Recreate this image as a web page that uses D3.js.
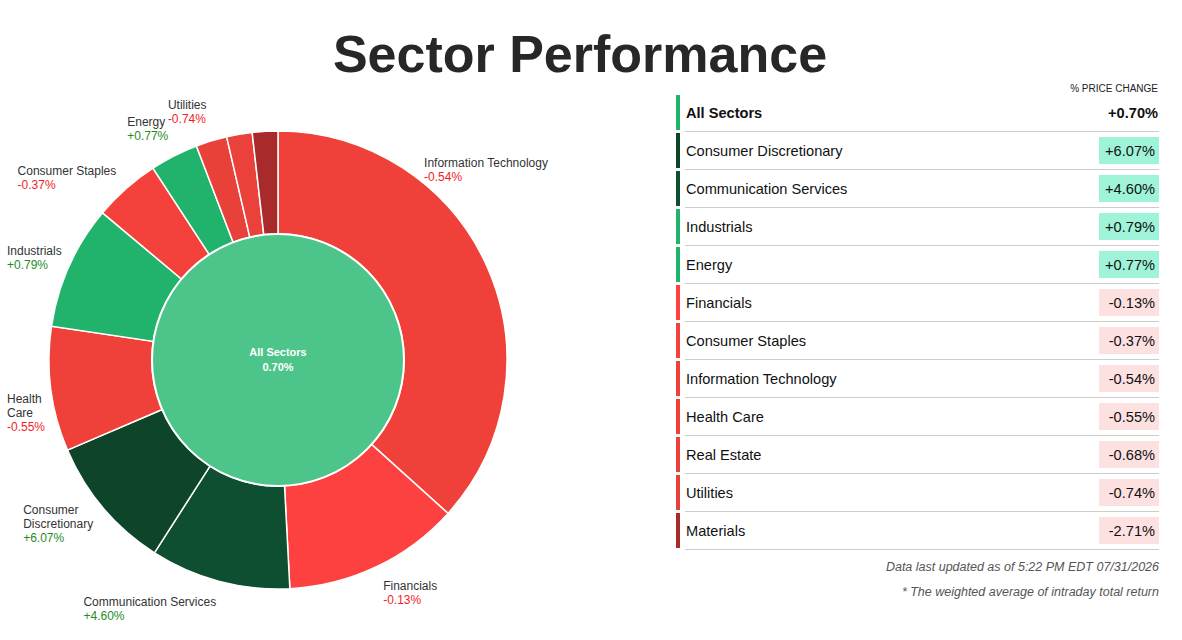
<!DOCTYPE html>
<html>
<head>
<meta charset="utf-8">
<script src="https://cdn.jsdelivr.net/npm/d3@7"></script>
<style>
  html, body { margin: 0; padding: 0; background: #fff; }
  svg { display: block; font-family: "Liberation Sans", Arial, sans-serif; }
</style>
</head>
<body>
<svg width="1182" height="640"></svg>
<script>
// sectors in the order they sit round the ring, clockwise from 12 o'clock
let sectors = ['Information Technology', 'Financials', 'Communication Services', 'Consumer Discretionary',
  'Health Care', 'Industrials', 'Consumer Staples', 'Energy', 'Utilities', 'Real Estate', 'Materials']
// slice size (index weight, %)
let weights = [36.7, 12.5, 9.9, 9.5, 8.8, 8.75, 4.7, 3.4, 2.2, 1.8, 1.8]
// % price change
let changes = [-0.54, -0.13, 4.60, 6.07, -0.55, 0.79, -0.37, 0.77, -0.74, -0.68, -2.71]
let allSectorsChange = 0.70

let titleText = 'Sector Performance'
let headerText = '% PRICE CHANGE'
let footNotes = ['Data last updated as of 5:22 PM EDT 07/31/2026', '* The weighted average of intraday total return']

let width = 1182, height = 640
let cx = 278, cy = 360, outerR = 229, innerR = 126
let labelR = 270
// label placement tweaks: angle shift (deg) and distance from centre
let labelNudge = {
  'Information Technology': [-18.5, 282], 'Financials': [-4.1, 268], 'Communication Services': [12.4, 280],
  'Consumer Discretionary': [3.6, 274], 'Health Care': [-4, 270], 'Industrials': [-2, 270],
  'Consumer Staples': [-7.6, 279], 'Energy': [-2.7, 266], 'Utilities': [-3.2, 264]
}

let svg = d3.select('svg')

// colour of a sector from its change
let negColor = d3.scaleLinear().domain([-0.13, -0.54, -0.74, -2.71])
  .range(['#fd4040', '#ef4139', '#e8413a', '#a82a2a']).clamp(true)
let posColor = d3.scaleLinear().domain([0.8, 4.6, 6.07])
  .range(['#21b26b', '#0f4f31', '#0e4429']).clamp(true)
function colorFor(v) { return v < 0 ? negColor(v) : posColor(v) }

function fmt(v) { return (v >= 0 ? '+' : '-') + Math.abs(v).toFixed(2) + '%' }

// title
svg.append('text')
  .attr('x', 580).attr('y', 72)
  .attr('text-anchor', 'middle')
  .attr('font-size', 52).attr('font-weight', 'bold')
  .attr('fill', '#272727')
  .text(titleText)

// ----- donut -----
let rows = sectors.map(function (name, i) {
  return { name: name, weight: weights[i], change: changes[i] }
})

let pie = d3.pie().sort(null).value(function (d) { return d.weight })
let arcs = pie(rows)
let arc = d3.arc().innerRadius(innerR).outerRadius(outerR)

let ring = svg.append('g').attr('transform', 'translate(' + cx + ',' + cy + ')')

ring.selectAll('path.slice').data(arcs)
  .enter().append('path')
  .attr('class', 'slice')
  .attr('d', arc)
  .attr('fill', function (d) { return colorFor(d.data.change) })
  .attr('stroke', '#fff')
  .attr('stroke-width', 1.5)

ring.append('circle')
  .attr('r', innerR)
  .attr('fill', '#4dc48a')
  .attr('stroke', '#fff')
  .attr('stroke-width', 2)

ring.append('text').attr('y', -4).attr('text-anchor', 'middle')
  .attr('font-size', 11).attr('font-weight', 'bold').attr('fill', '#fff')
  .text('All Sectors')
ring.append('text').attr('y', 11).attr('text-anchor', 'middle')
  .attr('font-size', 11).attr('font-weight', 'bold').attr('fill', '#fff')
  .text(allSectorsChange.toFixed(2) + '%')

// slice labels
let labelArcs = arcs.filter(function (d) { return d.data.weight >= 2 })
let lineH = 14

labelArcs.forEach(function (d) {
  let nudge = labelNudge[d.data.name] || [0, labelR]
  let mid = (d.startAngle + d.endAngle) / 2 + nudge[0] * Math.PI / 180
  let px = cx + nudge[1] * Math.sin(mid)
  let py = cy - nudge[1] * Math.cos(mid)

  let g = svg.append('g')
  let probe = g.append('text').attr('font-size', 12).text(d.data.name)
  let w = probe.node().getComputedTextLength()
  let lines = [d.data.name]
  if (px - w / 2 < 15 && d.data.name.indexOf(' ') > 0) {
    lines = d.data.name.split(' ')
    w = 0
    lines.forEach(function (l) {
      probe.text(l)
      w = Math.max(w, probe.node().getComputedTextLength())
    })
  }
  probe.remove()

  let total = lines.length + 1
  let left = Math.max(7, px - w / 2)
  let top = py - total * lineH / 2

  lines.forEach(function (l, k) {
    g.append('text')
      .attr('x', left).attr('y', top + k * lineH + 11)
      .attr('font-size', 12).attr('fill', '#333')
      .text(l)
  })
  g.append('text')
    .attr('x', left).attr('y', top + lines.length * lineH + 11)
    .attr('font-size', 12)
    .attr('fill', d.data.change < 0 ? '#f01e1e' : '#1f8c1f')
    .text(fmt(d.data.change))
})

// ----- table -----
let tableRows = [{ name: 'All Sectors', change: allSectorsChange, total: true }]
  .concat(rows.slice().sort(function (a, b) { return b.change - a.change }))

let y = d3.scaleBand()
  .domain(tableRows.map(function (d) { return d.name }))
  .range([94, 94 + 38 * tableRows.length])

let tx0 = 676, tx1 = 1159

svg.append('text')
  .attr('x', 1158).attr('y', 92)
  .attr('text-anchor', 'end')
  .attr('font-size', 10).attr('fill', '#222')
  .text(headerText)

let tr = svg.selectAll('g.row').data(tableRows)
  .enter().append('g')
  .attr('class', 'row')
  .attr('transform', function (d) { return 'translate(0,' + y(d.name) + ')' })

tr.append('rect')
  .attr('x', tx0).attr('y', 1)
  .attr('width', 4).attr('height', 35)
  .attr('fill', function (d) { return d.total ? '#21b26b' : colorFor(d.change) })

tr.append('line')
  .attr('x1', 685).attr('x2', tx1)
  .attr('y1', 37.5).attr('y2', 37.5)
  .attr('stroke', '#cccccc').attr('stroke-width', 1)

tr.filter(function (d) { return !d.total }).append('rect')
  .attr('x', 1099).attr('y', 5)
  .attr('width', tx1 - 1099).attr('height', 27)
  .attr('fill', function (d) { return d.change < 0 ? '#fde0e0' : '#9ef3d9' })

tr.append('text')
  .attr('x', 686).attr('y', 24)
  .attr('font-size', 14.6)
  .attr('font-weight', function (d) { return d.total ? 'bold' : 'normal' })
  .attr('fill', '#111')
  .text(function (d) { return d.name })

tr.append('text')
  .attr('x', function (d) { return d.total ? 1158 : 1155 })
  .attr('y', 24)
  .attr('text-anchor', 'end')
  .attr('font-size', 14.6)
  .attr('font-weight', function (d) { return d.total ? 'bold' : 'normal' })
  .attr('fill', '#111')
  .text(function (d) { return fmt(d.change) })

svg.selectAll('text.note').data(footNotes)
  .enter().append('text')
  .attr('class', 'note')
  .attr('x', 1159)
  .attr('y', function (d, i) { return 571 + i * 25 })
  .attr('text-anchor', 'end')
  .attr('font-size', 12.5)
  .attr('font-style', 'italic')
  .attr('fill', '#555')
  .text(function (d) { return d })
</script>
</body>
</html>
